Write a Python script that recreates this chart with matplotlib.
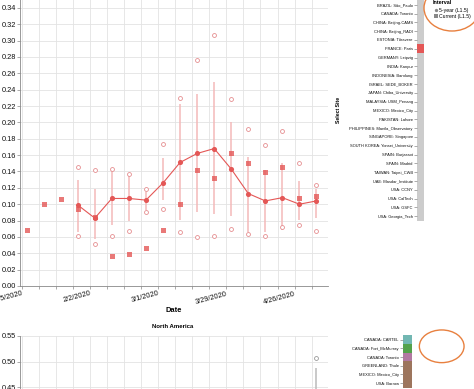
import matplotlib
matplotlib.use('Agg')
import matplotlib.pyplot as plt
import numpy as np
import pandas as pd
from matplotlib.patches import Ellipse

plt.rcParams['font.family'] = ['Liberation Sans', 'DejaVu Sans']

# ---------------- data ----------------
week_ticks = pd.date_range('2020-01-05', periods=18, freq='7D')
current_dates = pd.date_range('2020-01-07', periods=18, freq='7D')
current = [0.068, 0.100, 0.106, 0.094, 0.084, 0.037, 0.039, 0.047, 0.069,
           0.100, 0.142, 0.132, 0.162, 0.150, 0.139, 0.145, 0.107, 0.110]
five_dates = current_dates[3:]
five_mean = [0.099, 0.083, 0.107, 0.107, 0.105, 0.126, 0.151, 0.162, 0.168,
             0.143, 0.113, 0.104, 0.108, 0.100, 0.104]
five_min = [0.061, 0.051, 0.061, 0.067, 0.091, 0.094, 0.066, 0.060, 0.061,
            0.070, 0.063, 0.061, 0.072, 0.075, 0.067]
five_max = [0.146, 0.142, 0.143, 0.137, 0.118, 0.174, 0.230, 0.276, 0.307,
            0.229, 0.192, 0.172, 0.189, 0.150, 0.124]
band_lo = [0.066, 0.058, 0.074, 0.079, 0.093, 0.105, 0.081, 0.091, 0.088,
           0.085, 0.066, 0.066, 0.068, 0.081, 0.083]
band_hi = [0.130, 0.119, 0.142, 0.137, 0.115, 0.156, 0.222, 0.235, 0.249,
           0.201, 0.158, 0.142, 0.150, 0.128, 0.119]

sites = ['BRAZIL: São_Paulo', 'CANADA: Toronto', 'CHINA: Beijing-CAMS',
         'CHINA: Beijing_RADI', 'ESTONIA: Tõravere', 'FRANCE: Paris',
         'GERMANY: Leipzig', 'INDIA: Kanpur', 'INDONESIA: Bandung',
         'ISRAEL: SEDE_BOKER', 'JAPAN: Chiba_University', 'MALAYSIA: USM_Penang',
         'MEXICO: Mexico_City', 'PAKISTAN: Lahore',
         'PHILIPPINES: Manila_Observatory', 'SINGAPORE: Singapore',
         'SOUTH KOREA: Yonsei_University', 'SPAIN: Burjassot', 'SPAIN: Madrid',
         'TAIWAN: Taipei_CWB', 'UAE: Masdar_Institute', 'USA: CCNY',
         'USA: CalTech', 'USA: GSFC', 'USA: Georgia_Tech']
selected_site = 'FRANCE: Paris'

na_sites = ['CANADA: CARTEL', 'CANADA: Fort_McMurray', 'CANADA: Toronto',
            'GREENLAND: Thule', 'MEXICO: Mexico_City', 'USA: Barrow']
na_colors = ['#72b7b2', '#54a24b', '#b279a2', '#9d755d', '#9d755d', '#9d755d']
na_dates = pd.to_datetime(['2020-05-05'])
na_max = [0.507]
na_hi = [0.488]
na_lo = [0.40]

legend_labels = ['5-year (L1.5)', 'Current (L1.5)']

# ---------------- styling ----------------
W, H = 474, 389
RED = '#e45756'
GRID = '#e3e3e3'
AX = '#888888'
fig = plt.figure(figsize=(W / 100, H / 100), dpi=100)


def rect(x0, y0, x1, y1):
    return [x0 / W, 1 - y1 / H, (x1 - x0) / W, (y1 - y0) / H]


xmin = pd.Timestamp('2020-01-05') - pd.Timedelta(hours=17)
xmax = pd.Timestamp('2020-01-05') + pd.Timedelta(days=125.6)
tick_labels = [f'{d.month}/{d.day}/{d.year}' if i % 4 == 0 else ''
               for i, d in enumerate(week_ticks)]


def style_axes(ax, yticks):
    ax.set_xlim(xmin, xmax)
    ax.set_xticks(week_ticks)
    ax.set_yticks(yticks)
    ax.set_yticklabels([f'{v:.2f}' for v in yticks])
    ax.grid(True, color=GRID, lw=0.6)
    ax.set_axisbelow(True)
    for s in ['top', 'right']:
        ax.spines[s].set_visible(False)
    for s in ['left', 'bottom']:
        ax.spines[s].set_color(AX)
        ax.spines[s].set_linewidth(0.6)
    ax.tick_params(axis='both', length=2.2, width=0.5, color=AX,
                   labelsize=5.3, pad=0.8, labelcolor='#111')


# ---- top chart ----
ax1 = fig.add_axes(rect(20, -8.5, 327.7, 286))
ax1.set_ylim(0, 0.36)
style_axes(ax1, np.round(np.arange(0, 0.35, 0.02), 2))
ax1.set_xticklabels(tick_labels, rotation=15, ha='right', va='top',
                    rotation_mode='anchor')
ax1.vlines(five_dates, band_lo, band_hi, color='#f4b9b9', lw=1.1, zorder=2)
ax1.plot(five_dates, five_min, 'o', ms=2.8, mfc='white', mec='#e58d8f',
         mew=0.6, zorder=3)
ax1.plot(five_dates, five_max, 'o', ms=2.8, mfc='white', mec='#e58d8f',
         mew=0.6, zorder=3)
ax1.plot(current_dates, current, 's', ms=3.6, color=RED, alpha=0.8,
         mew=0, zorder=4)
ax1.plot(five_dates, five_mean, '-o', color=RED, lw=0.8, ms=3.7, mew=0,
         zorder=5)
fig.text(173.5 / W, 1 - 310 / H, 'Date', ha='center', va='center',
         fontsize=5.4, fontweight='bold')

# ---- bottom chart ----
ax2 = fig.add_axes(rect(20, 336, 327.7, 336 + 0.15 * 510))
ax2.set_ylim(0.40, 0.55)
style_axes(ax2, [0.40, 0.45, 0.50, 0.55])
ax2.set_xticklabels([])
ax2.vlines(na_dates, na_lo, na_hi, color='#bbbbbb', lw=1.1, zorder=2)
ax2.plot(na_dates, na_max, 'o', ms=2.8, mfc='white', mec='#999999',
         mew=0.6, zorder=3)
fig.text(172.7 / W, 1 - 326 / H, 'North America', ha='center', va='center',
         fontsize=4.3, fontweight='bold')


# ---- site selectors ----
def site_bar(r, names, colors):
    ax = fig.add_axes(r)
    n = len(names)
    ax.barh(range(n), [1] * n, height=1.0, color=colors, lw=0)
    ax.set_ylim(n - 0.5, -0.5)
    ax.set_xlim(0, 1)
    ax.set_yticks(range(n))
    ax.set_yticklabels(names)
    ax.set_xticks([])
    for s in ax.spines.values():
        s.set_visible(False)
    ax.tick_params(axis='y', length=2.2, width=0.5, color=AX, labelsize=2.9,
                   pad=0.6, labelcolor='#111')
    return ax


site_colors = [RED if s == selected_site else '#cccccc' for s in sites]
site_bar(rect(416.7, 0.3, 424.3, 220.7), sites, site_colors)
fig.text(339 / W, 1 - 110 / H, 'Select Site', rotation=90, ha='center',
         va='center', fontsize=3.7, fontweight='bold')
site_bar(rect(402.7, 335.3, 411.7, 335.3 + 8.7 * len(na_sites)), na_sites,
         na_colors)

# ---- overlay: legend and ellipses ----
ov = fig.add_axes([0, 0, 1, 1])
ov.set_xlim(0, W)
ov.set_ylim(H, 0)
ov.axis('off')
ov.patch.set_alpha(0)
ov.text(433, 2.7, 'Interval', fontsize=3.9, fontweight='bold', va='center')
ov.plot([435.7], [10], 'o', ms=2.4, color='#888888', mew=0)
ov.plot([435.7], [16.3], 's', ms=2.4, color='#888888', mew=0)
ov.text(439.5, 10, legend_labels[0], fontsize=3.7, va='center')
ov.text(439.5, 16.3, legend_labels[1], fontsize=3.7, va='center')
ov.add_patch(Ellipse((452, 8), 56, 46, fill=False, ec='#e8803f', lw=1.0))
ov.add_patch(Ellipse((441.7, 346.3), 44.7, 32.7, fill=False, ec='#e8803f',
                     lw=1.0))

fig.savefig('out.png', dpi=100)
